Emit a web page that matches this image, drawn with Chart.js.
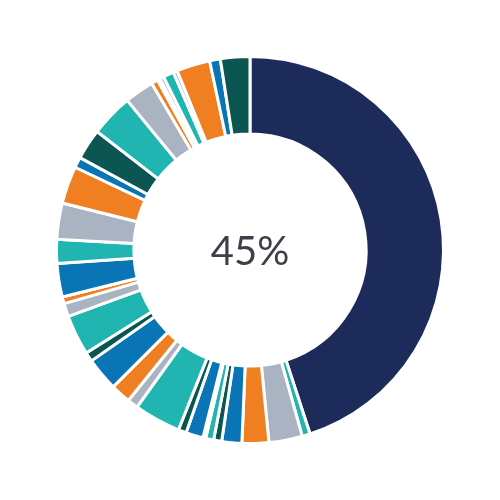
<!DOCTYPE html>
<html><head><meta charset="utf-8">
<script src="https://cdn.jsdelivr.net/npm/chart.js@4"></script>
<style>html,body{margin:0;background:#fff}#w{position:relative;width:500px;height:500px}
#t{position:absolute;left:0;top:0;width:500px;height:500px;display:flex;align-items:center;justify-content:center;font:40px Lato,sans-serif;color:#3c4048;pointer-events:none}</style>
</head><body><div id="w"><canvas id="c" width="500" height="500"></canvas><div id="t">45%</div></div>
<script>
const N='#1d2b5a',T='#20b5b0',G='#a9b3c1',O='#f07f22',B='#0a75b5',D='#0b5552';
const labels=['Main','s1','s2','s3','s4','s5','s6','s7','s8','s9','s10','s11','s12','s13','s14','s15','s16','s17','s18','s19','s20','s21','s22','s23','s24','s25','s26','s27','s28','s29','s30','s31','s32','s33'];
const values=[40.3,0.6,2.5,2,1.5,0.6,0.6,0.2,1.3,0.6,3.5,0.8,1.5,2.5,0.7,3,1,0.5,2.5,1.8,2.7,2.8,0.8,2.3,3.2,2.2,0.5,0.2,0.3,0.8,0.3,2.5,0.8,2.2];
const colors=[N,T,G,O,B,D,T,O,B,D,T,G,O,B,D,T,G,O,B,T,G,O,B,D,T,G,O,T,G,T,G,O,B,D];
new Chart(document.getElementById('c'),{type:'doughnut',
data:{labels,datasets:[{data:values,backgroundColor:colors,borderColor:'#fff',borderWidth:3}]},
options:{responsive:false,animation:false,cutout:'60%',layout:{padding:55},
plugins:{legend:{display:false},tooltip:{enabled:false}}}});
</script></body></html>
